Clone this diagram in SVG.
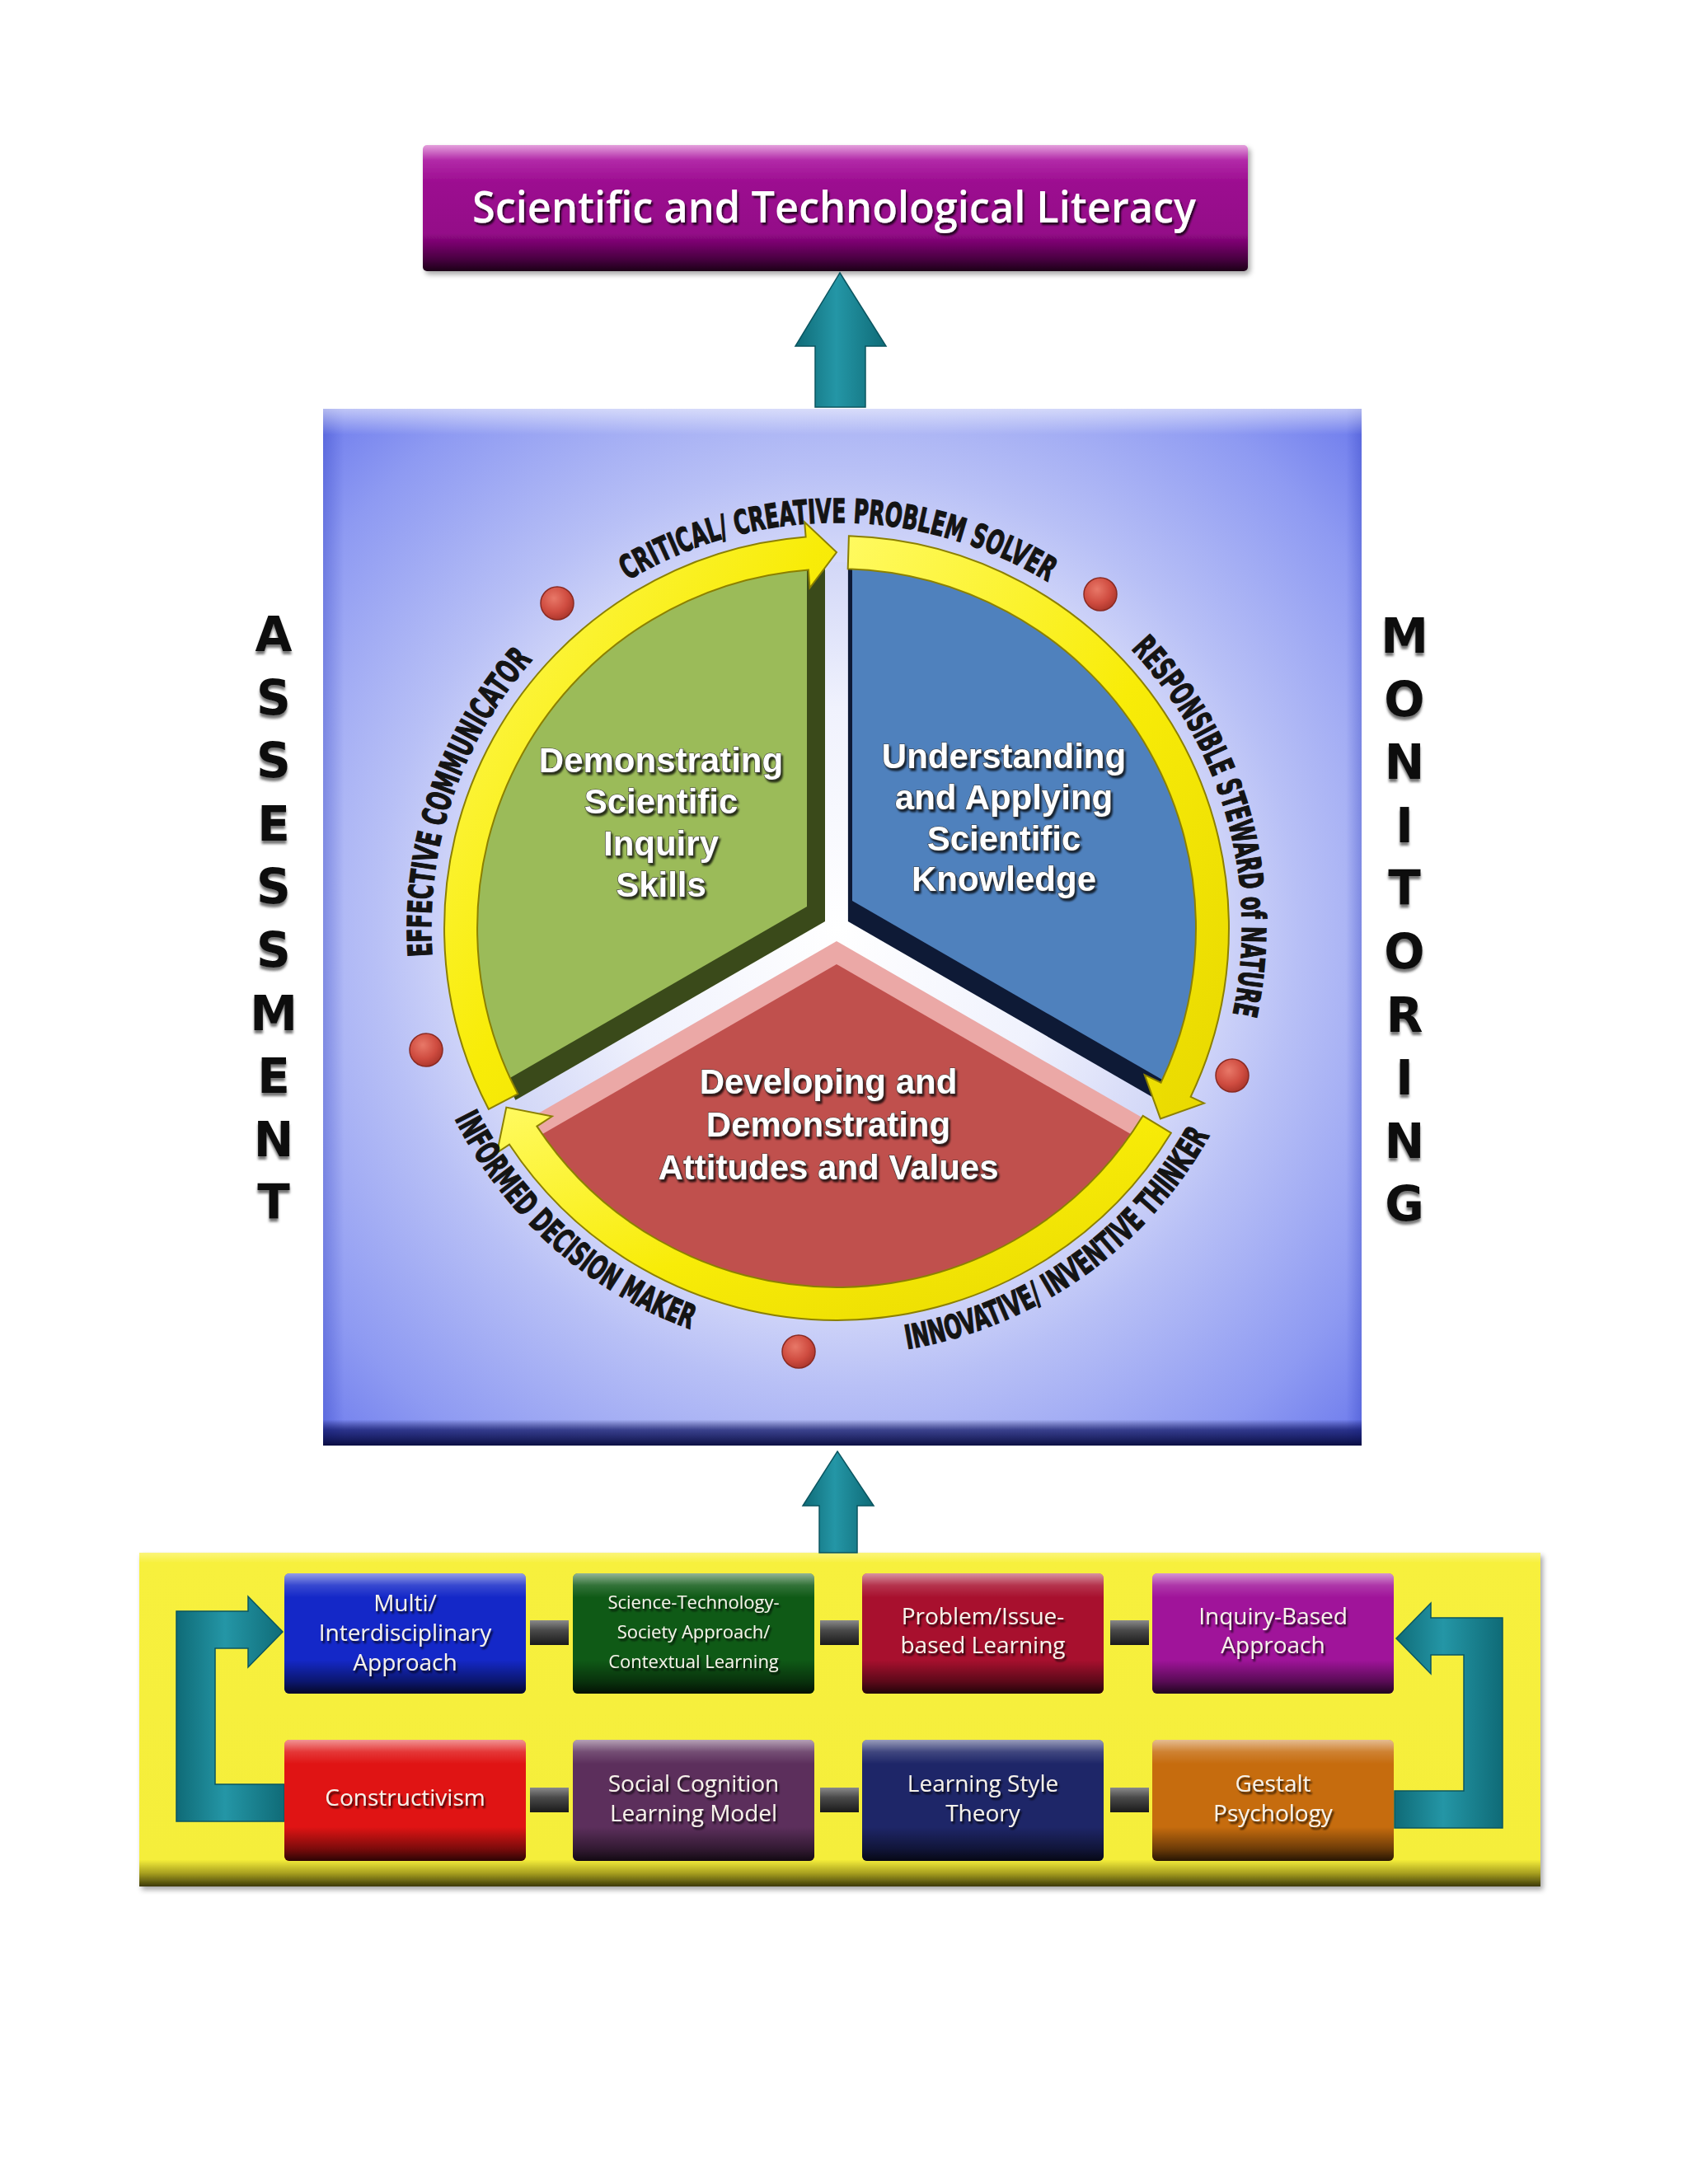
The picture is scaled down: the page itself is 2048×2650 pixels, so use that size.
<svg xmlns="http://www.w3.org/2000/svg" xmlns:xlink="http://www.w3.org/1999/xlink" width="2048" height="2650" viewBox="0 0 2048 2650">
<defs>
<style>
.title{font-family:"Open Sans","Noto Sans",sans-serif;font-weight:600;font-size:52px;fill:#ffffff;text-anchor:middle}
.boxt{font-family:"Open Sans","Noto Sans",sans-serif;font-size:28px;fill:#f6f2ea;text-anchor:middle}
.boxs{font-family:"Open Sans","Noto Sans",sans-serif;font-size:22px;fill:#f6f2ea;text-anchor:middle}
.sect{font-family:"Liberation Sans",Arial,sans-serif;font-weight:bold;font-size:42px;text-anchor:middle;fill:#ffffff;stroke:#3a3a3a;stroke-width:1.2px;paint-order:stroke}
.arc{font-family:"DejaVu Sans",sans-serif;font-weight:bold;font-size:40px;fill:#141414;stroke:#141414;stroke-width:1.4px}
.side{font-family:"DejaVu Sans",sans-serif;font-weight:bold;font-size:58px;text-anchor:middle;fill:#111111}
.teal{fill:url(#tealG);stroke:#0b5560;stroke-width:1.5}
.link{fill:url(#linkG)}
.gloss{fill:url(#glossG)}
.dot{fill:url(#dotG);stroke:#8a2a22;stroke-width:1.5}
.ring{fill:url(#ringG);stroke:#8c8000;stroke-width:2}
</style>
<linearGradient id="titleG" x1="0" y1="0" x2="0" y2="1">
<stop offset="0" stop-color="#e4a0dc"/>
<stop offset="0.12" stop-color="#b22aa8"/>
<stop offset="0.3" stop-color="#9c0c90"/>
<stop offset="0.7" stop-color="#940888"/>
<stop offset="0.9" stop-color="#4a0042"/>
<stop offset="1" stop-color="#1c0018"/>
</linearGradient>
<radialGradient id="bgG" cx="1015" cy="1126" r="900" gradientUnits="userSpaceOnUse">
<stop offset="0" stop-color="#f6f6fd"/>
<stop offset="0.45" stop-color="#dfe2fa"/>
<stop offset="0.62" stop-color="#b8c0f6"/>
<stop offset="0.85" stop-color="#8e9af2"/>
<stop offset="1" stop-color="#6a78ec"/>
</radialGradient>
<linearGradient id="sqBevel" x1="0" y1="0" x2="0" y2="1">
<stop offset="0" stop-color="#ffffff" stop-opacity="0.55"/>
<stop offset="0.025" stop-color="#ffffff" stop-opacity="0"/>
<stop offset="0.975" stop-color="#000040" stop-opacity="0"/>
<stop offset="0.985" stop-color="#0a1060" stop-opacity="0.7"/>
<stop offset="1" stop-color="#05083a" stop-opacity="0.95"/>
</linearGradient>
<linearGradient id="sqSide" x1="0" y1="0" x2="1" y2="0">
<stop offset="0" stop-color="#3040c0" stop-opacity="0.35"/>
<stop offset="0.02" stop-color="#3040c0" stop-opacity="0"/>
<stop offset="0.985" stop-color="#3040c0" stop-opacity="0"/>
<stop offset="1" stop-color="#3040c0" stop-opacity="0.35"/>
</linearGradient>
<radialGradient id="diskG" cx="1015" cy="1126" r="445" gradientUnits="userSpaceOnUse">
<stop offset="0" stop-color="#ffffff"/>
<stop offset="0.6" stop-color="#f0f2fd"/>
<stop offset="1" stop-color="#d2d7f7"/>
</radialGradient>
<linearGradient id="ringG" x1="0" y1="0" x2="1" y2="1">
<stop offset="0" stop-color="#fffa60"/>
<stop offset="0.5" stop-color="#f8ec08"/>
<stop offset="1" stop-color="#e8d800"/>
</linearGradient>
<radialGradient id="dotG" cx="0.4" cy="0.35" r="0.7">
<stop offset="0" stop-color="#e87868"/>
<stop offset="0.6" stop-color="#cf4c40"/>
<stop offset="1" stop-color="#a8342a"/>
</radialGradient>
<linearGradient id="tealG" x1="0" y1="0" x2="1" y2="0">
<stop offset="0" stop-color="#0f6b77"/>
<stop offset="0.45" stop-color="#2496a6"/>
<stop offset="1" stop-color="#0f6b77"/>
</linearGradient>
<linearGradient id="linkG" x1="0" y1="0" x2="0" y2="1">
<stop offset="0" stop-color="#8a8a8a"/>
<stop offset="0.4" stop-color="#4a4a4a"/>
<stop offset="1" stop-color="#1a1a1a"/>
</linearGradient>
<linearGradient id="glossG" x1="0" y1="0" x2="0" y2="1">
<stop offset="0" stop-color="#ffffff" stop-opacity="0.55"/>
<stop offset="0.1" stop-color="#ffffff" stop-opacity="0.15"/>
<stop offset="0.2" stop-color="#ffffff" stop-opacity="0"/>
<stop offset="0.72" stop-color="#000000" stop-opacity="0"/>
<stop offset="0.9" stop-color="#000000" stop-opacity="0.45"/>
<stop offset="1" stop-color="#000000" stop-opacity="0.8"/>
</linearGradient>
<linearGradient id="yellowG" x1="0" y1="0" x2="0" y2="1">
<stop offset="0" stop-color="#fbf57a"/>
<stop offset="0.03" stop-color="#f7f03e"/>
<stop offset="0.92" stop-color="#f5ee3a"/>
<stop offset="0.96" stop-color="#a8a020"/>
<stop offset="1" stop-color="#3c3a08"/>
</linearGradient>
<filter id="tsh" x="-10%" y="-20%" width="120%" height="150%">
<feDropShadow dx="2" dy="3" stdDeviation="1.2" flood-color="#000000" flood-opacity="0.75"/>
</filter>
<filter id="lsh" x="-20%" y="-20%" width="140%" height="150%">
<feDropShadow dx="0" dy="4" stdDeviation="1.5" flood-color="#555555" flood-opacity="0.8"/>
</filter>
<filter id="bsh" x="-5%" y="-5%" width="110%" height="115%">
<feDropShadow dx="3" dy="4" stdDeviation="3" flood-color="#000000" flood-opacity="0.35"/>
</filter>
<clipPath id="diskClip"><circle cx="1015" cy="1126" r="442"/></clipPath>
<path id="pTop" d="M761.6,704.3 A492,492 0 0 1 1272.1,706.5"/>
<path id="pRight" d="M1371.9,787.3 A492,492 0 0 1 1495.7,1230.8"/>
<path id="pLeft" d="M524.2,1160.3 A492,492 0 0 1 646.5,800.0"/>
<path id="pBR" d="M1100.5,1636.9 A518,518 0 0 0 1468.0,1377.1"/>
<path id="pBL" d="M551.4,1357.1 A518,518 0 0 0 837.8,1612.8"/>
</defs>

<rect x="0" y="0" width="2048" height="2650" fill="#ffffff"/>

<!-- Title node -->
<g id="node-literacy">
<rect x="513" y="176" width="1001" height="153" rx="5" fill="url(#titleG)" filter="url(#bsh)"/>
<text class="title" x="1012" y="270" textLength="878" lengthAdjust="spacingAndGlyphs" filter="url(#tsh)">Scientific and Technological Literacy</text>
</g>

<!-- Main square with circle -->
<g id="node-framework">
<rect x="392" y="496" width="1260" height="1258" fill="url(#bgG)"/>
<rect x="392" y="496" width="1260" height="1258" fill="url(#sqSide)"/>
<rect x="392" y="496" width="1260" height="1258" fill="url(#sqBevel)"/>

<circle cx="1015" cy="1126" r="444" fill="url(#diskG)"/>
<g clip-path="url(#diskClip)">
<polygon points="1001,1118 394.8,1468 394.8,768 1001,418" fill="#3a4a1a"/>
<polygon points="979,1100 372.8,1450 372.8,750 979,400" fill="#9bbb59"/>
<polygon points="1028.9,1118 1028.9,418 1635.1,768 1635.1,1468" fill="#0e1a36"/>
<polygon points="1034,1093 1034,393 1640.2,743 1640.2,1443" fill="#4f81bd"/>
<polygon points="1015,1142 1621.2,1492 1015,1842 408.8,1492" fill="#eba8a6"/>
<polygon points="1015,1170 1621.2,1520 1015,1870 408.8,1520" fill="#c0504d"/>
</g>

<g id="ring">
<path class="ring" d="M592.8,1345.8 A476,476 0 0 1 977.6,651.5 L976.2,633.5 L1015,670 L982.5,713.3 L980.8,691.4 A436,436 0 0 0 628.3,1327.3 Z"/>
<path class="ring" d="M1029.9,650.2 A476,476 0 0 1 1444.6,1330.9 L1460.9,1338.7 L1407.9,1357.4 L1388.7,1304.2 L1408.5,1313.7 A436,436 0 0 0 1028.7,690.2 Z"/>
<path class="ring" d="M1420.8,1374.7 A476,476 0 0 1 618.1,1388.7 L603.0,1398.6 L614.3,1343.6 L669.8,1354.5 L651.4,1366.6 A436,436 0 0 0 1386.7,1353.8 Z"/>
</g>

<g id="dots">
<circle class="dot" cx="676" cy="732" r="20"/>
<circle class="dot" cx="1335" cy="721" r="20"/>
<circle class="dot" cx="517" cy="1274" r="20"/>
<circle class="dot" cx="1495" cy="1305" r="20"/>
<circle class="dot" cx="969" cy="1640" r="20"/>
</g>

<g id="roles">
<text class="arc"><textPath href="#pTop" textLength="536" lengthAdjust="spacingAndGlyphs">CRITICAL/ CREATIVE PROBLEM SOLVER</textPath></text>
<text class="arc"><textPath href="#pRight" textLength="479" lengthAdjust="spacingAndGlyphs">RESPONSIBLE STEWARD of NATURE</textPath></text>
<text class="arc"><textPath href="#pLeft" textLength="390" lengthAdjust="spacingAndGlyphs">EFFECTIVE COMMUNICATOR</textPath></text>
<text class="arc"><textPath href="#pBR" textLength="465" lengthAdjust="spacingAndGlyphs">INNOVATIVE/ INVENTIVE THINKER</textPath></text>
<text class="arc"><textPath href="#pBL" textLength="393" lengthAdjust="spacingAndGlyphs">INFORMED DECISION MAKER</textPath></text>
</g>

<g id="sector-inquiry" filter="url(#tsh)">
<text class="sect" x="802" y="937">Demonstrating</text>
<text class="sect" x="802" y="987">Scientific</text>
<text class="sect" x="802" y="1038">Inquiry</text>
<text class="sect" x="802" y="1088">Skills</text>
</g>
<g id="sector-knowledge" filter="url(#tsh)">
<text class="sect" x="1218" y="932">Understanding</text>
<text class="sect" x="1218" y="982">and Applying</text>
<text class="sect" x="1218" y="1032">Scientific</text>
<text class="sect" x="1218" y="1081">Knowledge</text>
</g>
<g id="sector-attitudes" filter="url(#tsh)">
<text class="sect" x="1005" y="1327">Developing and</text>
<text class="sect" x="1005" y="1379">Demonstrating</text>
<text class="sect" x="1005" y="1431">Attitudes and Values</text>
</g>
</g>

<!-- Side labels -->
<g id="node-assessment" filter="url(#lsh)">
<text class="side" x="332" y="790">A</text>
<text class="side" x="332" y="867">S</text>
<text class="side" x="332" y="943">S</text>
<text class="side" x="332" y="1020">E</text>
<text class="side" x="332" y="1096">S</text>
<text class="side" x="332" y="1173">S</text>
<text class="side" x="332" y="1250">M</text>
<text class="side" x="332" y="1326">E</text>
<text class="side" x="332" y="1403">N</text>
<text class="side" x="332" y="1479">T</text>
</g>
<g id="node-monitoring" filter="url(#lsh)">
<text class="side" x="1704" y="792">M</text>
<text class="side" x="1704" y="869">O</text>
<text class="side" x="1704" y="945">N</text>
<text class="side" x="1704" y="1022">I</text>
<text class="side" x="1704" y="1098">T</text>
<text class="side" x="1704" y="1175">O</text>
<text class="side" x="1704" y="1252">R</text>
<text class="side" x="1704" y="1328">I</text>
<text class="side" x="1704" y="1405">N</text>
<text class="side" x="1704" y="1481">G</text>
</g>

<!-- Bottom panel -->
<g id="node-approaches">
<rect x="169" y="1884" width="1700" height="405" fill="url(#yellowG)" filter="url(#bsh)"/>
</g>

<g id="connectors">
<polygon class="teal" points="1019,331 1075,420 1050,420 1050,494 989,494 989,420 965,420"/>
<polygon class="teal" points="1016,1761 1060,1827 1040,1827 1040,1884 994,1884 994,1827 974,1827"/>
<polygon class="teal" points="343,1980 301,2023 301,2000 261,2000 261,2165 345,2165 345,2210 214,2210 214,1955 301,1955 301,1937"/>
<polygon class="teal" points="1694,1988 1736,1945 1736,1963 1823,1963 1823,2218 1692,2218 1692,2173 1776,2173 1776,2008 1736,2008 1736,2031"/>
<rect class="link" x="643" y="1966" width="47" height="30"/>
<rect class="link" x="995" y="1966" width="47" height="30"/>
<rect class="link" x="1347" y="1966" width="47" height="30"/>
<rect class="link" x="643" y="2169" width="47" height="30"/>
<rect class="link" x="995" y="2169" width="47" height="30"/>
<rect class="link" x="1347" y="2169" width="47" height="30"/>
</g>

<g id="node-multi">
<rect x="345" y="1909" width="293" height="146" rx="6" fill="#1428c8"/>
<rect class="gloss" x="345" y="1909" width="293" height="146" rx="6"/>
<g filter="url(#tsh)">
<text class="boxt" x="491.5" y="1955">Multi/</text>
<text class="boxt" x="491.5" y="1991">Interdisciplinary</text>
<text class="boxt" x="491.5" y="2027">Approach</text>
</g>
</g>
<g id="node-sts">
<rect x="695" y="1909" width="293" height="146" rx="6" fill="#0f5a16"/>
<rect class="gloss" x="695" y="1909" width="293" height="146" rx="6"/>
<g filter="url(#tsh)">
<text class="boxs" x="841.5" y="1952">Science-Technology-</text>
<text class="boxs" x="841.5" y="1988">Society Approach/</text>
<text class="boxs" x="841.5" y="2024">Contextual Learning</text>
</g>
</g>
<g id="node-problem">
<rect x="1046" y="1909" width="293" height="146" rx="6" fill="#a8102e"/>
<rect class="gloss" x="1046" y="1909" width="293" height="146" rx="6"/>
<g filter="url(#tsh)">
<text class="boxt" x="1192.5" y="1971">Problem/Issue-</text>
<text class="boxt" x="1192.5" y="2006">based Learning</text>
</g>
</g>
<g id="node-inquiry">
<rect x="1398" y="1909" width="293" height="146" rx="6" fill="#a0149a"/>
<rect class="gloss" x="1398" y="1909" width="293" height="146" rx="6"/>
<g filter="url(#tsh)">
<text class="boxt" x="1544.5" y="1971">Inquiry-Based</text>
<text class="boxt" x="1544.5" y="2006">Approach</text>
</g>
</g>
<g id="node-constructivism">
<rect x="345" y="2111" width="293" height="147" rx="6" fill="#e01414"/>
<rect class="gloss" x="345" y="2111" width="293" height="147" rx="6"/>
<g filter="url(#tsh)">
<text class="boxt" x="491.5" y="2191">Constructivism</text>
</g>
</g>
<g id="node-social">
<rect x="695" y="2111" width="293" height="147" rx="6" fill="#5c2f5c"/>
<rect class="gloss" x="695" y="2111" width="293" height="147" rx="6"/>
<g filter="url(#tsh)">
<text class="boxt" x="841.5" y="2174">Social Cognition</text>
<text class="boxt" x="841.5" y="2210">Learning Model</text>
</g>
</g>
<g id="node-style">
<rect x="1046" y="2111" width="293" height="147" rx="6" fill="#1e2668"/>
<rect class="gloss" x="1046" y="2111" width="293" height="147" rx="6"/>
<g filter="url(#tsh)">
<text class="boxt" x="1192.5" y="2174">Learning Style</text>
<text class="boxt" x="1192.5" y="2210">Theory</text>
</g>
</g>
<g id="node-gestalt">
<rect x="1398" y="2111" width="293" height="147" rx="6" fill="#c66c0e"/>
<rect class="gloss" x="1398" y="2111" width="293" height="147" rx="6"/>
<g filter="url(#tsh)">
<text class="boxt" x="1544.5" y="2174">Gestalt</text>
<text class="boxt" x="1544.5" y="2210">Psychology</text>
</g>
</g>
</svg>
